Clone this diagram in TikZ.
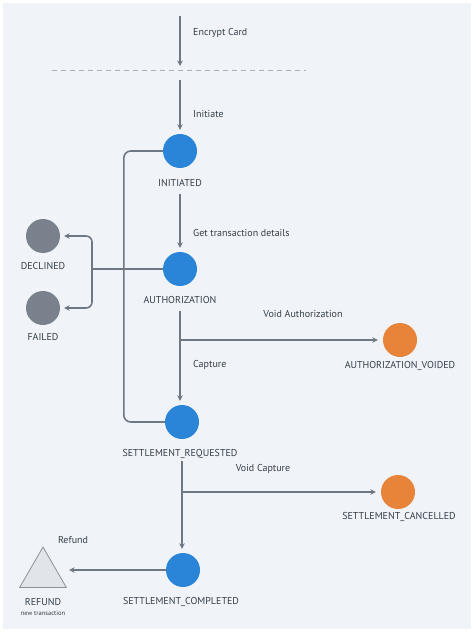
\documentclass[tikz,border=0pt]{standalone}
\usepackage{fontspec}
\setmainfont{PT Sans}
\usetikzlibrary{shapes.geometric,arrows.meta}
\definecolor{bgc}{HTML}{F0F4F8}
\definecolor{linec}{HTML}{6E7885}
\definecolor{textc}{HTML}{353E49}
\definecolor{dashc}{HTML}{A9B1BA}
\definecolor{bluec}{HTML}{2A85D9}
\definecolor{orangec}{HTML}{E8833A}
\definecolor{grayc}{HTML}{78818C}
\definecolor{trifill}{HTML}{E1E4E8}
\definecolor{triedge}{HTML}{8A929C}
\begin{document}
\begin{tikzpicture}[x=1bp,y=-1bp,
  font=\fontsize{10bp}{12bp}\selectfont,
  state/.style={circle,minimum size=34bp,inner sep=0pt},
  bluestate/.style={state,fill=bluec},
  orangestate/.style={state,fill=orangec},
  graystate/.style={state,fill=grayc},
  lbl/.style={text=textc,inner sep=1pt},
  elbl/.style={text=textc,inner sep=1pt,anchor=west},
  line/.style={draw=linec,line width=1.6bp},
  arr/.style={line,-{Stealth[length=5.5bp,width=5.5bp]}}
]
\useasboundingbox (0,0) rectangle (474,632);
\fill[white] (0,0) rectangle (474,632);
\fill[bgc] (3,3) rectangle (471,629);

% dashed separator
\draw[dashc,line width=1bp,dash pattern=on 5bp off 4bp] (52,71) -- (306,71);

% states
\node[bluestate] (init) at (180,151) {};
\node[bluestate] (auth) at (180,269) {};
\node[graystate] (declined) at (43,236) {};
\node[graystate] (failed) at (43,308) {};
\node[orangestate] (voided) at (400,340) {};
\node[bluestate] (sreq) at (182,422) {};
\node[orangestate] (scanc) at (398,492) {};
\node[bluestate] (scomp) at (183,570) {};
\node[regular polygon,regular polygon sides=3,minimum size=54bp,inner sep=0pt,
      fill=trifill,draw=triedge,line width=0.8bp] (refund) at (43,574) {};

% state labels
\node[lbl] (linit) at (180,183) {INITIATED};
\node[lbl] (lauth) at (180,300) {AUTHORIZATION};
\node[lbl] (ldecl) at (43,266) {DECLINED};
\node[lbl] (lfail) at (43,337) {FAILED};
\node[lbl] (lvoid) at (400,366) {AUTHORIZATION\_VOIDED};
\node[lbl] (lsreq) at (180,454) {SETTLEMENT\_REQUESTED};
\node[lbl] (lscanc) at (399,517) {SETTLEMENT\_CANCELLED};
\node[lbl] (lscomp) at (181,602) {SETTLEMENT\_COMPLETED};
\node[lbl] (lrefund) at (43,602) {REFUND};
\node[lbl,font=\fontsize{6.5bp}{7bp}\selectfont] (lnewtx) at (43,613) {new transaction};

% free ends
\coordinate (top0) at (180,16);
\coordinate (top0e) at (180,66);
\coordinate (top1) at (180,80);
\coordinate (xb) at (92,269);

% connectors
\draw[arr] (top0) -- (top0e);
\draw[arr] (top1) -- ([yshift=4bp]init.north);
\draw[arr] ([yshift=-6bp]linit.south) -- ([yshift=4bp]auth.north);
\draw[line] (auth.west) -- (xb);
\draw[arr,rounded corners=6bp,shorten >=4bp] (xb) |- (declined.east);
\draw[arr,rounded corners=6bp,shorten >=4bp] (xb) |- (failed.east);
\draw[line,rounded corners=7bp] (init.west) -- ++(-39,0) |- (sreq.west);
\draw[arr] ([yshift=-6bp]lauth.south) -- ([yshift=4bp]auth |- sreq.north);
\draw[arr,shorten >=5bp] (auth |- voided) -- (voided.west);
\draw[arr] ([yshift=-1bp]lsreq.south -| sreq) -- ([yshift=4bp]sreq |- scomp.north);
\draw[arr,shorten >=5bp] (sreq |- scanc) -- (scanc.west);
\draw[arr,shorten >=10bp] (scomp.west) -- (scomp.west -| refund.east);

% edge labels
\node[elbl] at (192,33) {Encrypt Card};
\node[elbl] at (192,114) {Initiate};
\node[elbl] at (192,233) {Get transaction details};
\node[lbl] at (303,314) {Void Authorization};
\node[elbl] at (192,365) {Capture};
\node[lbl] at (263,469) {Void Capture};
\node[lbl] at (73,540) {Refund};
\end{tikzpicture}
\end{document}
